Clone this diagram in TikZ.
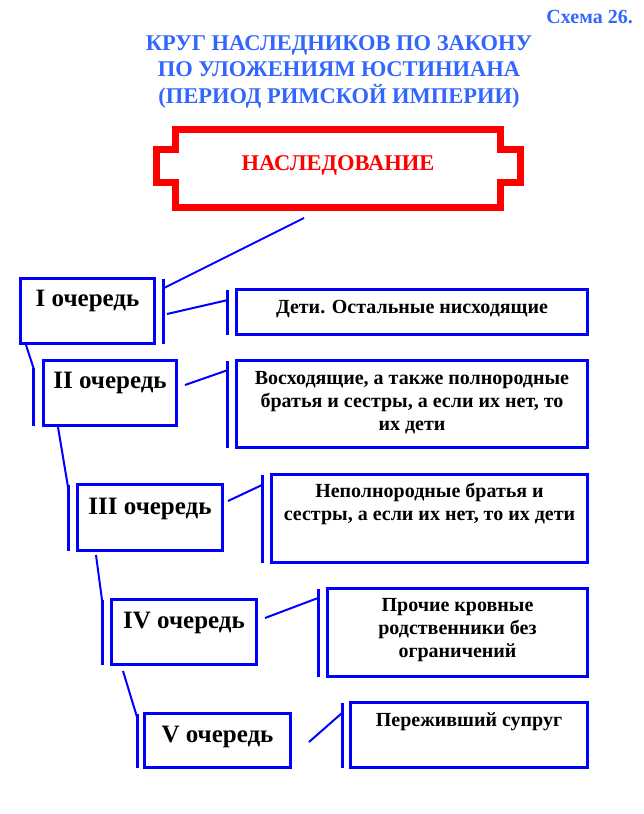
\documentclass[tikz,border=0pt]{standalone}
\usepackage{fontspec}
\setmainfont{Liberation Serif}
\definecolor{titleblue}{RGB}{51,102,255}
\tikzset{
  stagebox/.style={draw=blue,line width=3pt,inner sep=0pt,outer sep=0pt},
  heirbox/.style={draw=blue,line width=3pt,inner sep=0pt,outer sep=0pt},
  stagetext/.style={font=\bfseries\fontsize{25}{28}\selectfont,inner sep=0pt,anchor=base},
  heirtext/.style={font=\bfseries\fontsize{20}{23}\selectfont,align=center,inner sep=0pt,anchor=base},
  bar/.style={blue,line width=3pt},
  link/.style={blue,line width=2pt}
}
\begin{document}
\begin{tikzpicture}[x=1pt,y=-1pt]
  \useasboundingbox (0,0) rectangle (644,814);

  \node[font=\bfseries\fontsize{20}{22}\selectfont,text=titleblue,inner sep=0pt,anchor=base east] (scheme) at (633,23) {Схема 26.};
  \node[font=\bfseries\fontsize{22.5}{26.5}\selectfont,text=titleblue,align=center,inner sep=0pt,anchor=base] (title) at (339,103)
    {КРУГ НАСЛЕДНИКОВ ПО ЗАКОНУ\\ПО УЛОЖЕНИЯМ ЮСТИНИАНА\\(ПЕРИОД РИМСКОЙ ИМПЕРИИ)};

  \node[minimum width=325pt,minimum height=78pt,inner sep=0pt,outer sep=0pt] (nasl) at (338,168.5) {};
  \draw[red,line width=7pt,line join=miter] (nasl.north west) -- (nasl.north east) -- ++(0,20) -- ++(20,0) -- ++(0,33)
    -- ++(-20,0) -- (nasl.south east) -- (nasl.south west) -- ++(0,-25) -- ++(-19,0) -- ++(0,-33) -- ++(19,0) -- cycle;
  \node[font=\bfseries\fontsize{22.5}{24}\selectfont,text=red,inner sep=0pt,anchor=base] (nasltext) at ([yshift=-1.5pt]nasl.center) {НАСЛЕДОВАНИЕ};

  \foreach \n/\x/\y/\w/\h/\lbl/\off in {1/87.5/311/134/65/I/27.5, 2/110/393/133/65/II/27.5, 3/150/517.5/145/66/III/29.5,
      4/184/632/145/65/IV/28.5, 5/217.5/740.5/146/54/V/28.5} {
    \node[stagebox,minimum width=\w pt,minimum height=\h pt] (q\n) at (\x,\y) {};
    \node[stagetext] (q\n text) at ([yshift=-\off pt]q\n.north) {\lbl{} очередь};
  }

  \node[heirbox,minimum width=351pt,minimum height=45pt] (h1) at (412,312) {};
  \node[heirbox,minimum width=351pt,minimum height=87pt] (h2) at (412,404) {};
  \node[heirbox,minimum width=316pt,minimum height=88pt] (h3) at (429.5,518.5) {};
  \node[heirbox,minimum width=260pt,minimum height=88pt] (h4) at (457.5,632.5) {};
  \node[heirbox,minimum width=237pt,minimum height=65pt] (h5) at (469,735) {};
  \node[heirtext] (h1text) at ([yshift=-23.5pt]h1.north) {Дети. Остальные нисходящие};
  \node[heirtext] (h2text) at ([yshift=-69.5pt]h2.north) {Восходящие, а также полнородные\\братья и сестры, а если их нет, то\\их дети};
  \node[heirtext] (h3text) at ([yshift=-46pt]h3.north) {Неполнородные братья и\\сестры, а если их нет, то их дети};
  \node[heirtext] (h4text) at ([yshift=-68.5pt]h4.north) {Прочие кровные\\родственники без\\ограничений};
  \node[heirtext] (h5text) at ([yshift=-23.5pt]h5.north) {Переживший супруг};

  \draw[bar] ([xshift=8.5pt]q1.north east) -- ([xshift=8.5pt]q1.south east);
  \draw[bar] ([shift={(-10,7.5)}]q2.north west) -- ([xshift=-10pt]q2.south west);
  \draw[bar] ([xshift=-9.5pt]q3.north west) -- ([xshift=-9.5pt]q3.south west);
  \draw[bar] ([xshift=-9.5pt]q4.north west) -- ([xshift=-9.5pt]q4.south west);
  \draw[bar] ([xshift=-7.5pt]q5.north west) -- ([xshift=-7.5pt]q5.south west);
  \foreach \n/\d in {1/9.5,2/9.5,3/9.5,4/9.5,5/8.5}
    \draw[bar] ([xshift=-\d pt]h\n.north west) -- ([xshift=-\d pt]h\n.south west);

  \draw[link] ([shift={(-34,10.5)}]nasl.south) -- ([shift={(9.5,9.5)}]q1.north east);
  \draw[link] ([shift={(12.5,3)}]q1.east) -- ([shift={(-8.5,-12)}]h1.west);
  \draw[link] ([shift={(5.5,1.5)}]q1.south west) -- ([shift={(-10,7.5)}]q2.north west);
  \draw[link] ([shift={(8.5,-8)}]q2.east) -- ([shift={(-8.5,-34)}]h2.west);
  \draw[link] ([shift={(14.5,1.5)}]q2.south west) -- ([shift={(-9.5,2.5)}]q3.north west);
  \draw[link] ([shift={(5.5,-16.5)}]q3.east) -- ([shift={(-9.5,-33.5)}]h3.west);
  \draw[link] ([shift={(18.5,4.5)}]q3.south west) -- ([shift={(-9.5,0.5)}]q4.north west);
  \draw[link] ([shift={(8.5,-14)}]q4.east) -- ([shift={(-9.5,-34.5)}]h4.west);
  \draw[link] ([shift={(11.5,6.5)}]q4.south west) -- ([shift={(-7.5,3.5)}]q5.north west);
  \draw[link] ([shift={(18.5,1.5)}]q5.east) -- ([shift={(-8.5,-22)}]h5.west);
\end{tikzpicture}
\end{document}
